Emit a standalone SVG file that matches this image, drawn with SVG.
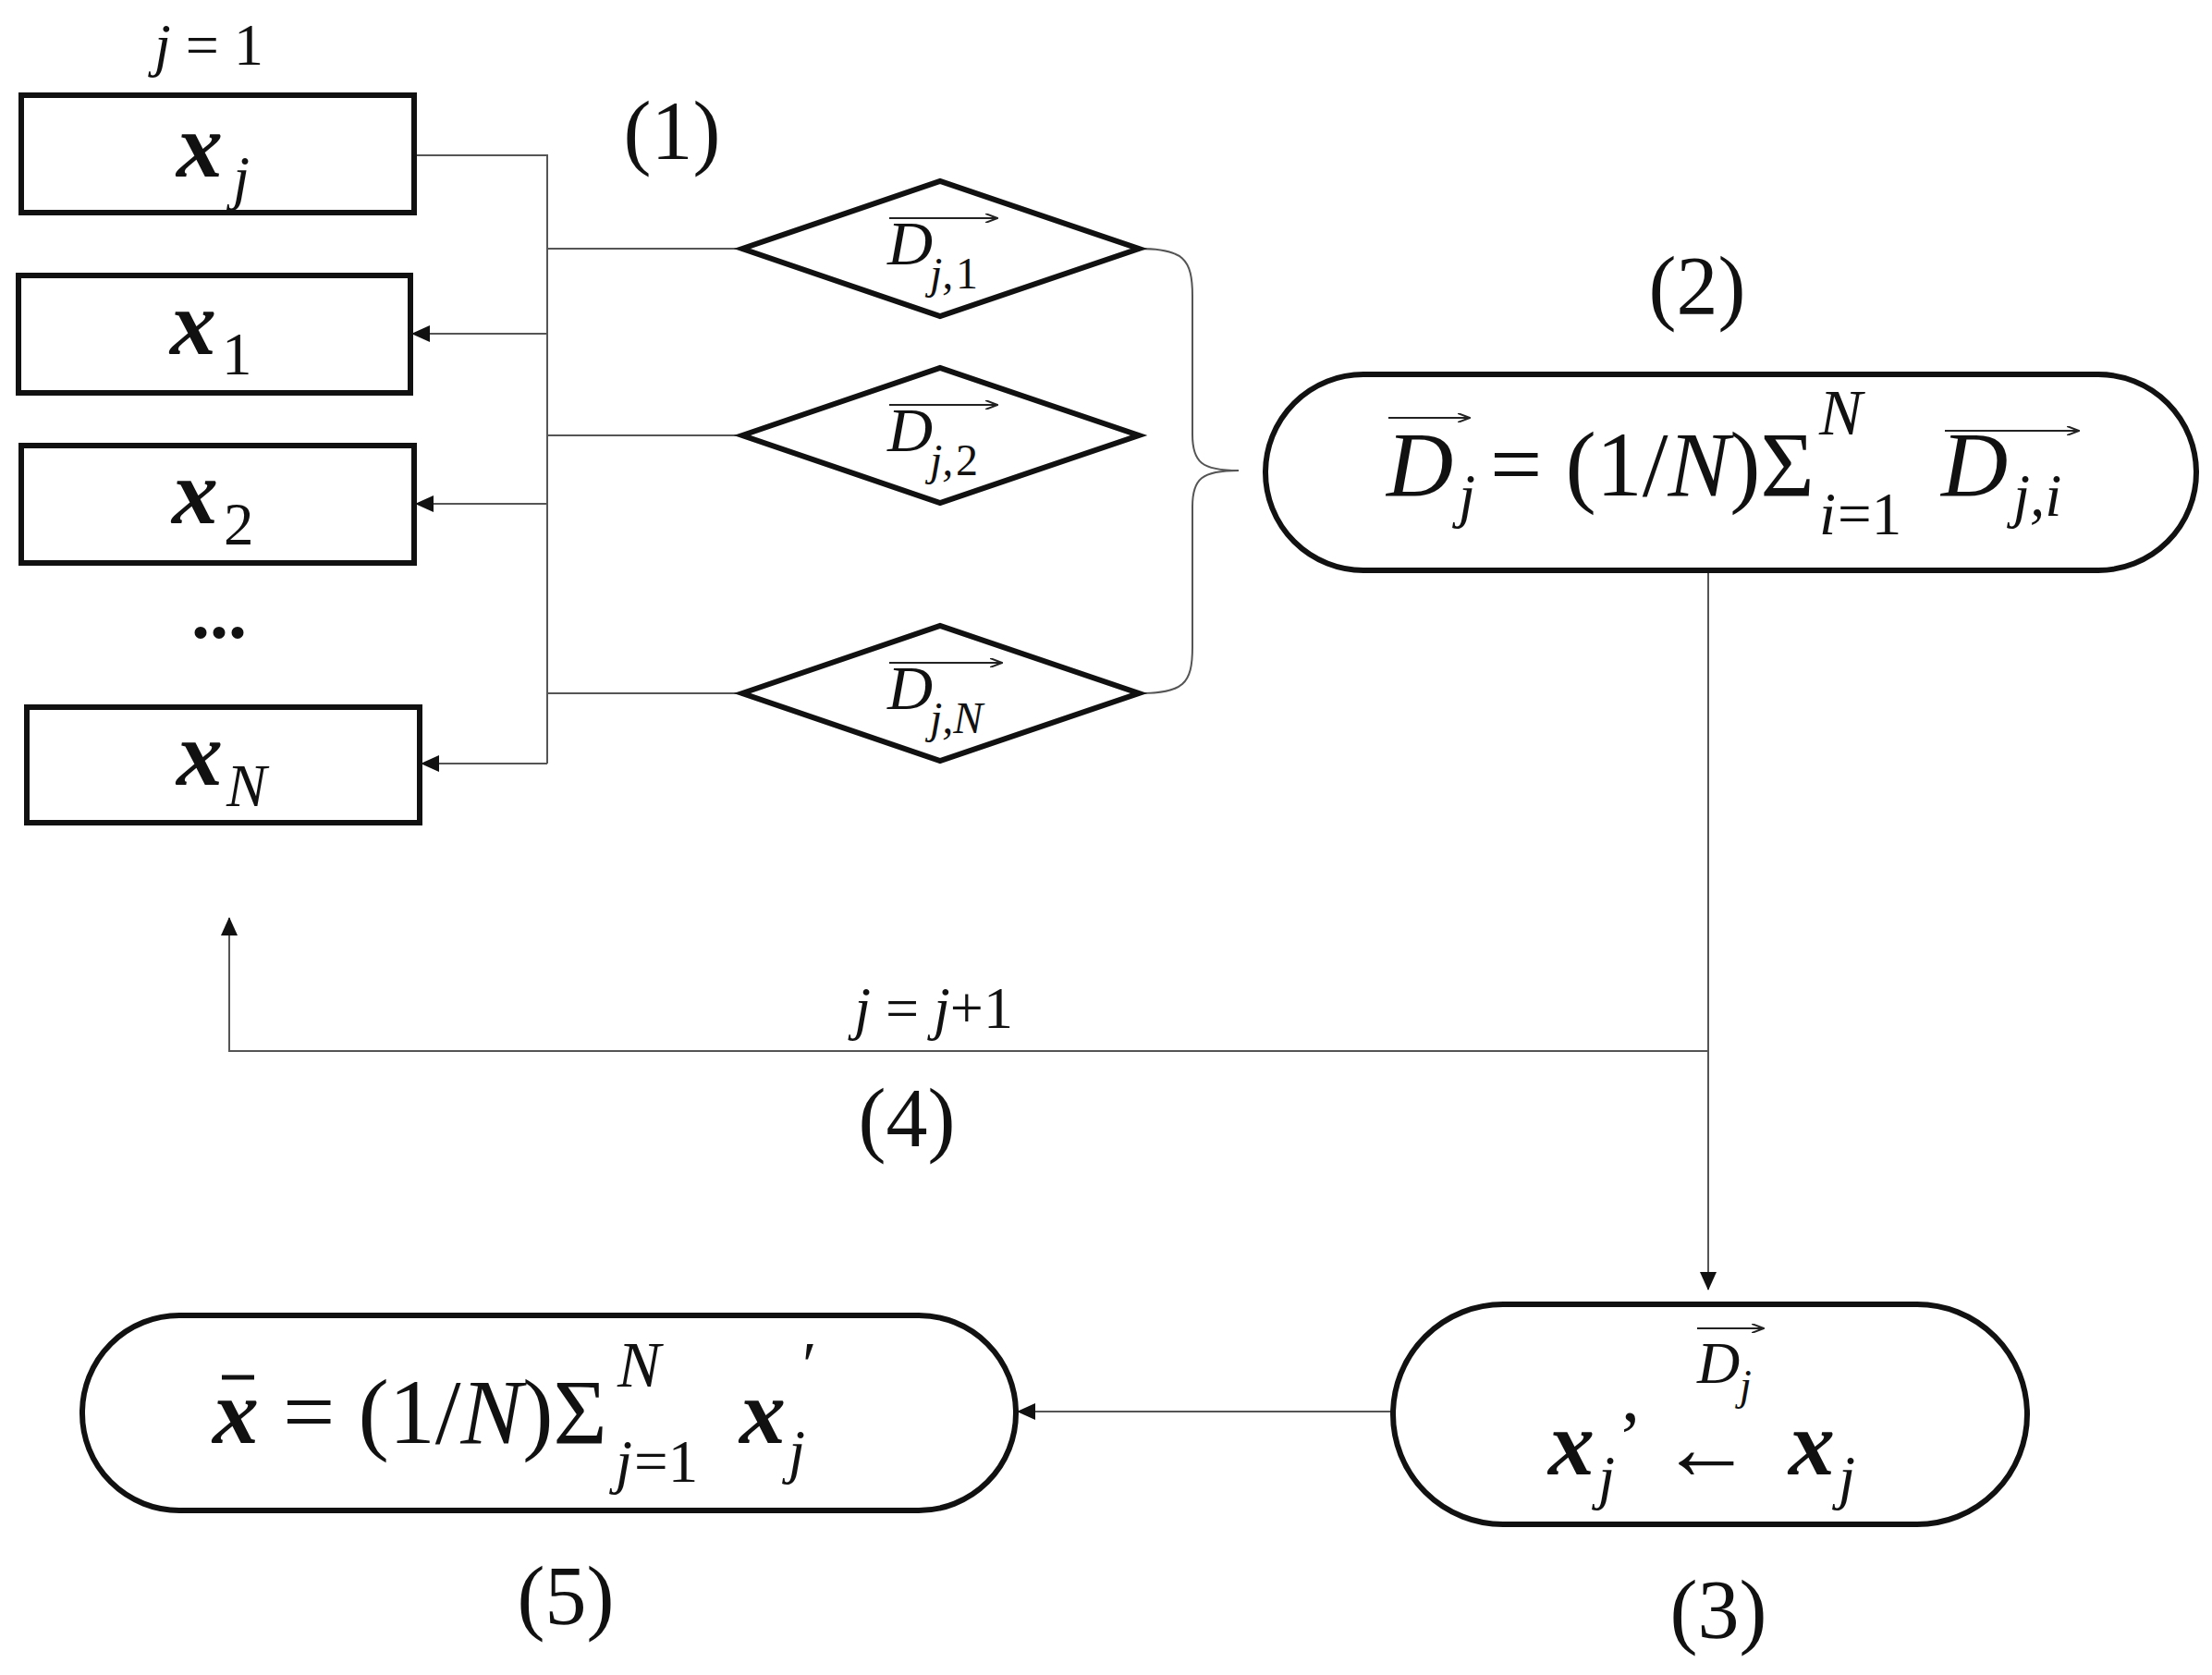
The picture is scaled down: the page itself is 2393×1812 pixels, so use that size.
<svg xmlns="http://www.w3.org/2000/svg" width="2393" height="1812" viewBox="0 0 2393 1812">
<style>
.box{fill:#fff;stroke:#111;stroke-width:6}
.ln{fill:none;stroke:#555;stroke-width:2}
.va{fill:none;stroke:#222;stroke-width:2}
text{font-family:"Liberation Serif",serif;fill:#111}
.bx{font-weight:bold;font-style:italic;font-size:100px}
.it{font-style:italic}
.lab{font-size:90px}
</style>
<defs>
<marker id="ahb" markerWidth="20" markerHeight="18" refX="19" refY="9" orient="auto" markerUnits="userSpaceOnUse"><path d="M0,0 L20,9 L0,18 z" fill="#111"/></marker>
<marker id="va" markerWidth="14" markerHeight="10" refX="13" refY="5" orient="auto" markerUnits="userSpaceOnUse"><path d="M0,0 L13,5 L0,10" fill="none" stroke="#222" stroke-width="2"/></marker>
</defs>
<g id="connectors">
<path class="ln" d="M448,168 H592 V826"/>
<path class="ln" d="M592,361 H446" marker-end="url(#ahb)"/>
<path class="ln" d="M592,545 H450" marker-end="url(#ahb)"/>
<path class="ln" d="M592,826 H456" marker-end="url(#ahb)"/>
<path class="ln" d="M592,269 H800"/>
<path class="ln" d="M592,471 H800"/>
<path class="ln" d="M592,750 H800"/>
<path class="ln" d="M1232,269 C1280,269 1290,280 1290,320 V470 C1290,500 1300,509 1340,509 C1300,509 1290,518 1290,548 V700 C1290,740 1280,750 1232,750"/>
<path class="ln" d="M1848,617 V1395" marker-end="url(#ahb)"/>
<path class="ln" d="M1848,1137 H248 V993" marker-end="url(#ahb)"/>
<path class="ln" d="M1507,1527 H1101" marker-end="url(#ahb)"/>
</g>
<text x="226" y="70" font-size="64" text-anchor="middle"><tspan class="it">j</tspan> = 1</text>
<g id="xj"><rect class="box" x="23" y="103" width="425" height="127"/><text class="bx" x="191" y="191">x</text><text class="it" x="252" y="214" font-size="65">j</text></g>
<g id="x1"><rect class="box" x="20" y="298" width="424" height="127"/><text class="bx" x="184" y="383">x</text><text x="240" y="405" font-size="65">1</text></g>
<g id="x2"><rect class="box" x="23" y="482" width="425" height="127"/><text class="bx" x="186" y="566">x</text><text x="242" y="589" font-size="65">2</text></g>
<text x="237" y="690" font-size="80" font-weight="bold" text-anchor="middle">...</text>
<g id="xN"><rect class="box" x="29" y="765" width="425" height="125"/><text class="bx" x="191" y="849">x</text><text class="it" x="245" y="872" font-size="65">N</text></g>
<text class="lab" x="727" y="172" text-anchor="middle">(1)</text>
<g id="d1"><polygon class="box" points="803,269 1017,196 1232,269 1017,342"/><text class="it" x="960" y="286" font-size="68">D</text><text class="it" x="1006" y="312" font-size="48">j,</text><text x="1034" y="312" font-size="48">1</text><path class="va" d="M962,236 H1079" marker-end="url(#va)"/></g>
<g id="d2"><polygon class="box" points="803,471 1017,398 1232,471 1017,544"/><text class="it" x="960" y="488" font-size="68">D</text><text class="it" x="1006" y="514" font-size="48">j,</text><text x="1034" y="514" font-size="48">2</text><path class="va" d="M962,438 H1079" marker-end="url(#va)"/></g>
<g id="dN"><polygon class="box" points="803,750 1017,677 1232,750 1017,823"/><text class="it" x="960" y="767" font-size="68">D</text><text class="it" x="1006" y="793" font-size="48">j,N</text><path class="va" d="M962,717 H1084" marker-end="url(#va)"/></g>
<text class="lab" x="1836" y="340" text-anchor="middle">(2)</text>
<g id="n2"><rect class="box" x="1369" y="405" width="1007" height="212" rx="106"/>
<text class="it" x="1500" y="536" font-size="100">D</text><text class="it" x="1578" y="558" font-size="65">j</text>
<text x="1612" y="536" font-size="100">= (1/<tspan class="it">N</tspan>)Σ</text>
<text class="it" x="1968" y="578" font-size="65">i</text><text x="1988" y="578" font-size="65">=1</text>
<text class="it" x="1968" y="470" font-size="70">N</text>
<text class="it" x="2100" y="536" font-size="100">D</text><text class="it" x="2178" y="558" font-size="65">j,i</text>
<path class="va" d="M1502,452 H1590" marker-end="url(#va)"/><path class="va" d="M2104,466 H2249" marker-end="url(#va)"/></g>
<text x="1010" y="1112" font-size="64" text-anchor="middle"><tspan class="it">j</tspan> = <tspan class="it">j</tspan>+1</text>
<text class="lab" x="981" y="1240" text-anchor="middle">(4)</text>
<g id="n3"><rect class="box" x="1507" y="1411" width="686" height="238" rx="119"/>
<text class="it" x="1836" y="1496" font-size="64">D</text><text class="it" x="1882" y="1514" font-size="46">j</text>
<path class="va" d="M1836,1437 H1908" marker-end="url(#va)"/>
<text class="bx" x="1675" y="1595">x</text><text class="it" x="1729" y="1620" font-size="65">j</text>
<text x="1750" y="1582" font-size="80">’</text>
<text x="1796" y="1600" font-size="100">←</text>
<text class="bx" x="1935" y="1595">x</text><text class="it" x="1989" y="1620" font-size="65">j</text></g>
<text class="lab" x="1859" y="1772" text-anchor="middle">(3)</text>
<g id="n5"><rect class="box" x="89" y="1423" width="1010" height="211" rx="105"/>
<text class="bx" x="230" y="1561">x</text><path d="M240,1490 H275" stroke="#111" stroke-width="5"/>
<text x="306" y="1561" font-size="100">= (1/<tspan class="it">N</tspan>)Σ</text>
<text class="it" x="666" y="1603" font-size="65">j</text><text x="686" y="1603" font-size="65">=1</text>
<text class="it" x="668" y="1500" font-size="70">N</text>
<text class="bx" x="800" y="1561">x</text><text class="it" x="853" y="1592" font-size="65">j</text>
<text x="868" y="1500" font-size="70">′</text></g>
<text class="lab" x="612" y="1757" text-anchor="middle">(5)</text>
</svg>
